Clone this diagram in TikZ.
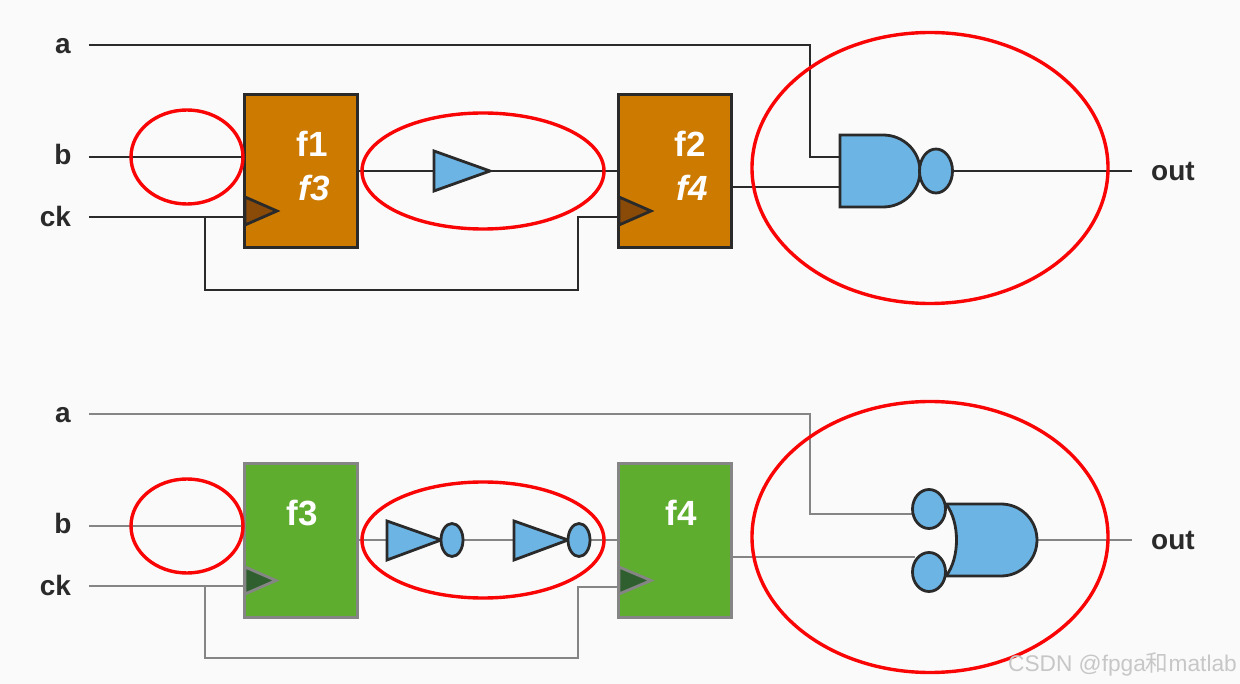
\documentclass[tikz,border=0pt]{standalone}
\usepackage{fontspec}
\setmainfont{Liberation Sans}
\newfontfamily\cjk{Noto Sans CJK SC}
\usetikzlibrary{shapes.geometric}
\definecolor{pagebg}{HTML}{FAFAFA}
\definecolor{ink}{HTML}{2A2A2A}
\definecolor{greywire}{HTML}{858585}
\definecolor{ffbrown}{HTML}{CC7A00}
\definecolor{ckbrown}{HTML}{8A4B08}
\definecolor{ffgreen}{HTML}{5FAD2F}
\definecolor{ckgreen}{HTML}{2F5F2F}
\definecolor{gateblue}{HTML}{6CB4E4}
\definecolor{markred}{HTML}{FA0505}
\tikzset{
    wire/.style={draw=ink,line width=2.6pt},
    greyline/.style={draw=greywire,line width=2.6pt},
    gatebody/.style={draw=ink,fill=gateblue,line width=2.8pt,line join=miter},
    bubble/.style={ellipse,draw=ink,fill=gateblue,line width=2.8pt,inner sep=0pt,minimum width=#1},
    ffbox/.style={rectangle,line width=3pt,minimum width=113pt,minimum height=153pt,inner sep=0pt},
    pinlabel/.style={font=\bfseries\fontsize{28}{28}\selectfont,text=ink,inner sep=0pt},
    fflabel/.style={font=\bfseries\fontsize{35}{35}\selectfont,text=white,inner sep=0pt},
    redmark/.style={ellipse,draw=markred,line width=3.4pt,inner sep=0pt}
}
\begin{document}
\begin{tikzpicture}[x=1pt,y=-1pt]
    \path[fill=pagebg] (0,0) rectangle (1240,684);
    \useasboundingbox (0,0) rectangle (1240,684);

    % Top circuit: flip-flops and pins
    \node[ffbox,draw=ink,fill=ffbrown] (f1) at (300.5,171.5) {};
    \node[ffbox,draw=ink,fill=ffbrown] (f2) at (674.5,171.5) {};
    \node[pinlabel] (a1) at (63,46) {a};
    \node[pinlabel] (b1) at (63,154) {b};
    \node[pinlabel] (ck1) at (55.5,216) {ck};
    \node[pinlabel,anchor=west] (out1) at (1151,172) {out};
    \coordinate (a1s) at (89,45);
    \coordinate (b1s) at (89,157);
    \coordinate (ck1s) at (89,217);
    \coordinate (ck1t) at (205,217);
    \coordinate (out1e) at (1132,171);
    \coordinate (buf1in) at (434,171);
    \coordinate (and1top) at (840,157);
    \coordinate (and1low) at (840,187);

    % Top circuit: wires
    \draw[wire] (a1s) -- (810,45) -- (810,157) -- (and1top);
    \draw[wire] (b1s) -- (f1.west |- b1s);
    \draw[wire] (ck1s) -- (f1.west |- ck1s);
    \draw[wire] (ck1t) -- (205,290) -- (578,290) -- (578,217) -- (f2.west |- ck1s);
    \draw[wire] (f1.east |- buf1in) -- (f2.west |- buf1in);
    \draw[wire] (f2.east |- and1low) -- (and1low);

    % Top circuit: gates
    \draw[gatebody] (434,151) -- (490,171) -- (434,191) -- cycle;
    \draw[gatebody,fill=ckbrown] (245,197) -- (277,211) -- (245,225) -- cycle;
    \draw[gatebody,fill=ckbrown] (619,197) -- (651,211) -- (619,225) -- cycle;
    \draw[gatebody] (840,135) -- (883,135) arc[start angle=-90,end angle=90,x radius=37,y radius=36] -- (840,207) -- cycle;
    \node[bubble=33pt,minimum height=44pt] (inv1) at (936,171) {};
    \draw[wire] (inv1.east) -- (out1e);

    % Top circuit: names
    \node[fflabel] (f1name) at (312,144) {f1};
    \node[fflabel,font=\bfseries\itshape\fontsize{35}{35}\selectfont] (f3name) at (314,188) {f3};
    \node[fflabel] (f2name) at (690,144) {f2};
    \node[fflabel,font=\bfseries\itshape\fontsize{35}{35}\selectfont] (f4name) at (692,188) {f4};

    % Bottom circuit: flip-flops and pins
    \node[ffbox,draw=greywire,fill=ffgreen] (f3) at (300.5,540.5) {};
    \node[ffbox,draw=greywire,fill=ffgreen] (f4) at (674.5,540.5) {};
    \node[pinlabel] (a2) at (63,415) {a};
    \node[pinlabel] (b2) at (63,523) {b};
    \node[pinlabel] (ck2) at (55.5,585) {ck};
    \node[pinlabel,anchor=west] (out2) at (1151,541) {out};
    \coordinate (a2s) at (89,414);
    \coordinate (b2s) at (89,526);
    \coordinate (ck2s) at (89,586);
    \coordinate (ck2t) at (205,586);
    \coordinate (ck2u) at (578,587);
    \coordinate (out2e) at (1132,540);
    \coordinate (mid2) at (387,540);
    \coordinate (low2) at (915,557);

    % Bottom circuit: wires
    \draw[greyline] (a2s) -- (810,414) -- (810,514) -- (915,514);
    \draw[greyline] (b2s) -- (f3.west |- b2s);
    \draw[greyline] (ck2s) -- (f3.west |- ck2s);
    \draw[greyline] (ck2t) -- (205,658) -- (578,658) -- (ck2u) -- (f4.west |- ck2u);
    \draw[greyline] (f3.east |- mid2) -- (f4.west |- mid2);
    \draw[greyline] (f4.east |- low2) -- (low2);
    \draw[greyline] (1037,540) -- (out2e);

    % Bottom circuit: gates
    \draw[gatebody] (387,521) -- (441,540) -- (387,560) -- cycle;
    \node[bubble=22pt,minimum height=33pt] (inv2) at (452,540) {};
    \draw[gatebody] (514,521) -- (568,540) -- (514,560) -- cycle;
    \node[bubble=22pt,minimum height=33pt] (inv3) at (579,540) {};
    \draw[gatebody,draw=greywire,fill=ckgreen] (245,567) -- (276,580.5) -- (245,594) -- cycle;
    \draw[gatebody,draw=greywire,fill=ckgreen] (619,567) -- (651,580.5) -- (619,594) -- cycle;
    \draw[gatebody] (946,504) -- (1001,504) arc[start angle=-90,end angle=90,x radius=36,y radius=36] -- (946,576) .. controls (960,558) and (960,522) .. (946,504) -- cycle;
    \node[bubble=33pt,minimum height=39pt] (nand2a) at (929,509) {};
    \node[bubble=33pt,minimum height=39pt] (nand2b) at (929,572) {};

    % Bottom circuit: names
    \node[fflabel] (f3name2) at (302,513) {f3};
    \node[fflabel] (f4name2) at (681,513) {f4};

    % Red marks
    \node[redmark,minimum width=112pt,minimum height=94pt] (m1) at (187,157) {};
    \node[redmark,minimum width=242pt,minimum height=116pt] (m2) at (483,171) {};
    \node[redmark,minimum width=356pt,minimum height=271pt] (m3) at (930,168) {};
    \node[redmark,minimum width=112pt,minimum height=94pt] (m4) at (187,526) {};
    \node[redmark,minimum width=242pt,minimum height=116pt] (m5) at (483,540) {};
    \node[redmark,minimum width=356pt,minimum height=271pt] (m6) at (930,537) {};

    % Watermark
    \node[anchor=east,inner sep=0pt,text=black!22,font=\fontsize{22.7}{23}\selectfont] (csdn) at (1237,664) {CSDN @fpga{\cjk 和}matlab};
\end{tikzpicture}
\end{document}
